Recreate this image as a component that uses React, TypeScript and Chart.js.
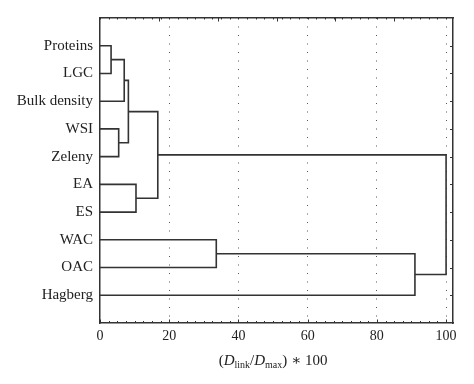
import React, { useEffect, useRef } from "react";
import { Chart, registerables } from "chart.js";

Chart.register(...registerables);

// ---- data ----
const leaves = ["Proteins", "LGC", "Bulk density", "WSI", "Zeleny", "EA", "ES", "WAC", "OAC", "Hagberg"];
// linkage: node ids 0..9 are leaves, 10+k is the cluster created by merge k
const mergeA = [0, 3, 10, 12, 5, 13, 7, 16, 15];
const mergeB = [1, 4, 2, 11, 6, 14, 8, 9, 17];
const mergeHeight = [3.2, 5.4, 7.0, 8.2, 10.4, 16.7, 33.6, 91.0, 100];
const xTicks = [0, 20, 40, 60, 80, 100];
const gridValues = [20, 40, 60, 80, 100];
const xMax = 102;
const minorStep = 2.5;
// axis title pieces: [text, style] where style: "r" roman, "i" italic, "s" subscript
const titleParts: [string, string][] = [
  ["(", "r"],
  ["D", "i"],
  ["link", "s"],
  ["/", "r"],
  ["D", "i"],
  ["max", "s"],
  [")", "r"],
  [" ∗ 100", "r"],
];

const FONT = "'Liberation Serif', 'DejaVu Serif', serif";
const INK = "#222";
const LINE = "#333";

function buildDatasets() {
  const pos: number[] = leaves.map((_, i) => i + 1);
  const h: number[] = leaves.map(() => 0);
  const ds: any[] = [];
  mergeA.forEach((a, k) => {
    const b = mergeB[k];
    const H = mergeHeight[k];
    ds.push({
      data: [
        { x: h[a], y: pos[a] },
        { x: H, y: pos[a] },
        { x: H, y: pos[b] },
        { x: h[b], y: pos[b] },
      ],
      showLine: true,
      borderColor: LINE,
      borderWidth: 1.6,
      pointRadius: 0,
      fill: false,
      tension: 0,
    });
    pos.push((pos[a] + pos[b]) / 2);
    h.push(H);
  });
  return ds;
}

const frameTicks = {
  id: "frameTicks",
  afterDraw(chart: any) {
    const { ctx, chartArea, scales } = chart;
    const { top, bottom, right } = chartArea;
    const x = scales.x;
    const y = scales.y;
    ctx.save();
    ctx.strokeStyle = LINE;
    ctx.lineWidth = 1;
    ctx.beginPath();
    for (let v = 0; v <= xMax + 1e-9; v += minorStep) {
      const px = Math.round(x.getPixelForValue(v)) + 0.5;
      const len = xTicks.includes(v) ? 3.5 : 2;
      ctx.moveTo(px, bottom);
      ctx.lineTo(px, bottom - len);
      ctx.moveTo(px, top);
      ctx.lineTo(px, top + 1.5);
    }
    for (let k = 1; k < 6; k++) {
      const px = Math.round(x.getPixelForValue((xMax * k) / 6)) + 0.5;
      ctx.moveTo(px, top);
      ctx.lineTo(px, top + 3.5);
    }
    leaves.forEach((_, i) => {
      const py = Math.round(y.getPixelForValue(i + 1)) + 0.5;
      ctx.moveTo(right, py);
      ctx.lineTo(right - 3, py);
    });
    ctx.stroke();

    // x-axis title with italic D and subscripts
    const fontFor = (st: string) =>
      st === "i" ? `italic 15px ${FONT}` : st === "s" ? `10px ${FONT}` : `15px ${FONT}`;
    let total = 0;
    titleParts.forEach(([t, st]) => {
      ctx.font = fontFor(st);
      total += ctx.measureText(t).width;
    });
    const cx = x.getPixelForValue(50);
    const baseY = 365;
    let cur = cx - total / 2;
    ctx.fillStyle = INK;
    ctx.textBaseline = "alphabetic";
    ctx.textAlign = "left";
    titleParts.forEach(([t, st]) => {
      ctx.font = fontFor(st);
      ctx.fillText(t, cur, st === "s" ? baseY + 3 : baseY);
      cur += ctx.measureText(t).width;
    });
    ctx.restore();
  },
};

export default function App() {
  const ref = useRef<HTMLCanvasElement | null>(null);
  useEffect(() => {
    if (!ref.current) return;
    const chart = new Chart(ref.current, {
      type: "scatter",
      data: { datasets: buildDatasets() },
      plugins: [frameTicks],
      options: {
        animation: false,
        responsive: true,
        maintainAspectRatio: false,
        layout: { padding: { top: 18, right: 21, left: 0, bottom: 0 } },
        plugins: { legend: { display: false }, tooltip: { enabled: false } },
        scales: {
          x: {
            type: "linear",
            position: "bottom",
            min: 0,
            max: xMax,
            afterBuildTicks: (s: any) => {
              s.ticks = xTicks.map((v) => ({ value: v }));
            },
            afterFit: (s: any) => {
              s.height = 61;
            },
            ticks: {
              font: { family: FONT, size: 14 },
              color: INK,
              padding: 5,
              maxRotation: 0,
              autoSkip: false,
            },
            grid: {
              drawTicks: false,
              lineWidth: 1,
              color: (c: any) => (c.tick && gridValues.includes(c.tick.value) ? "#555" : "rgba(0,0,0,0)"),
            },
            border: { display: true, color: LINE, width: 1.5, dash: [1, 7.5] },
            title: { display: false },
          },
          x2: {
            type: "linear",
            position: "top",
            min: 0,
            max: xMax,
            ticks: { display: false },
            grid: { display: false, drawTicks: false },
            border: { display: true, color: LINE, width: 1.5 },
            afterFit: (s: any) => {
              s.height = 0;
            },
          },
          y: {
            type: "linear",
            position: "left",
            min: 0,
            max: 11,
            reverse: true,
            afterBuildTicks: (s: any) => {
              s.ticks = leaves.map((_, i) => ({ value: i + 1 }));
            },
            afterFit: (s: any) => {
              s.width = 100;
            },
            ticks: {
              font: { family: FONT, size: 15 },
              color: INK,
              padding: 7,
              autoSkip: false,
              callback: (v: any) => leaves[Number(v) - 1] ?? "",
            },
            grid: { display: false, drawTicks: false },
            border: { display: true, color: LINE, width: 1.5 },
          },
          y2: {
            type: "linear",
            position: "right",
            min: 0,
            max: 11,
            ticks: { display: false },
            grid: { display: false, drawTicks: false },
            border: { display: true, color: LINE, width: 1.5 },
            afterFit: (s: any) => {
              s.width = 0;
            },
          },
        },
      },
    });
    return () => chart.destroy();
  }, []);
  return (
    <div style={{ position: "fixed", left: 0, top: 0, width: 474, height: 384, background: "#fff" }}>
      <canvas ref={ref} />
    </div>
  );
}
